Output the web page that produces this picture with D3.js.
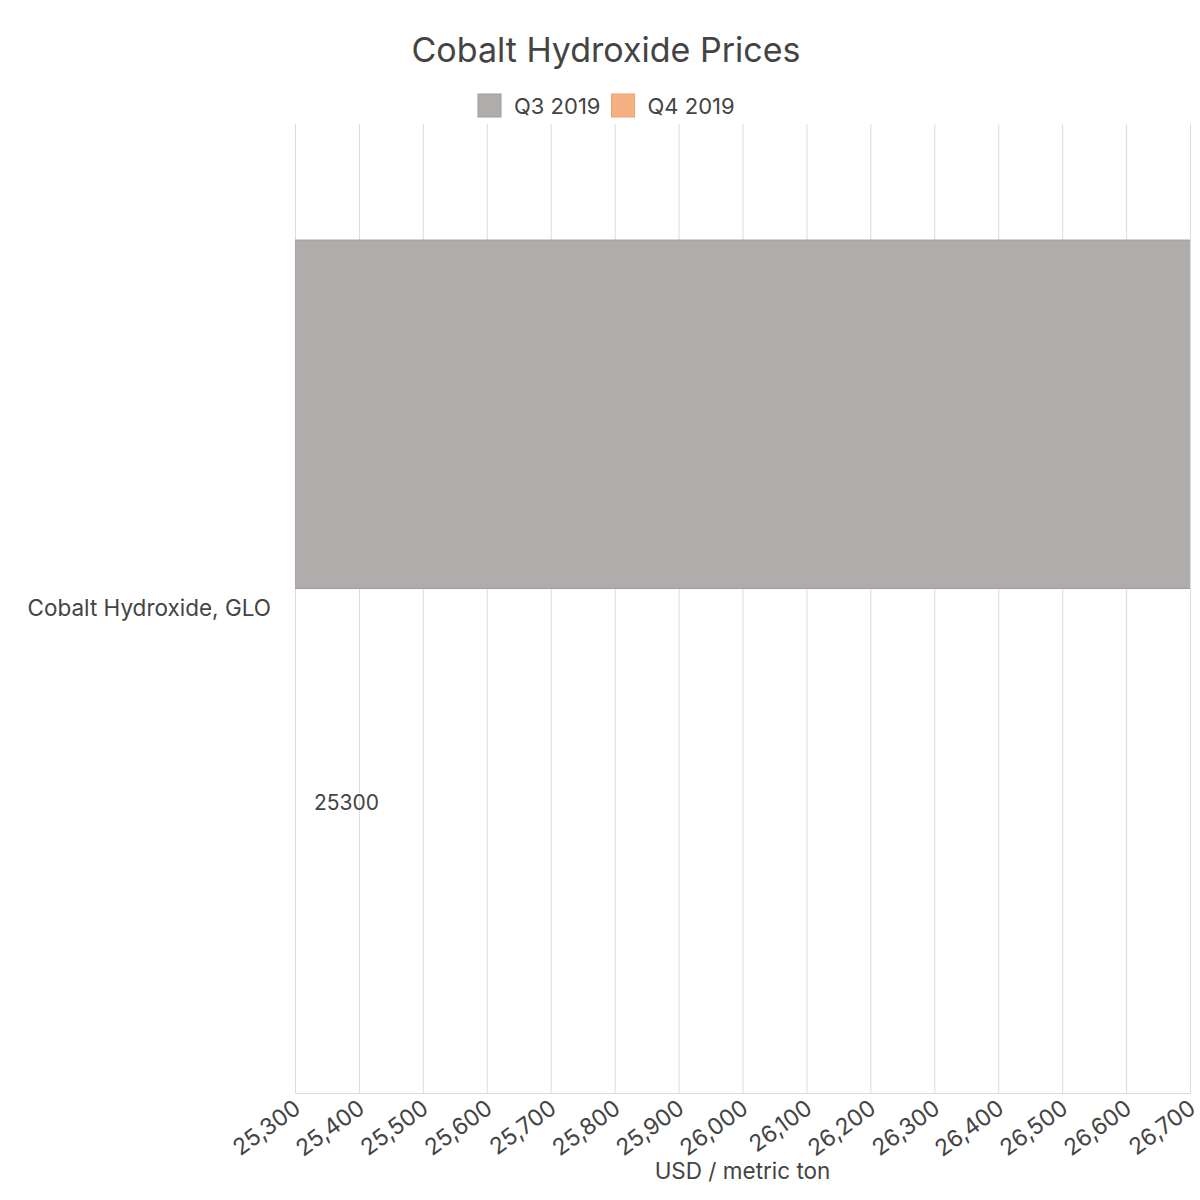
<!DOCTYPE html>
<html>
<head>
<meta charset="utf-8">
<script src="https://cdn.jsdelivr.net/npm/d3@7"></script>
<style>
  body { margin: 0; background: #fff; }
  text { font-family: Inter, "Noto Sans", sans-serif; fill: #444; }
</style>
</head>
<body>
<div id="chart"></div>
<script>
const categories = ["Cobalt Hydroxide, GLO"];
const seriesNames = ["Q3 2019", "Q4 2019"];
const q3Values = [28500];
const q4Values = [25300];
const seriesColors = ["#b0acab", "#f5b183"];
const seriesStroke = ["#a19d9c", "#efa06c"];
const xDomain = [25300, 26700];

const width = 1200;
const height = 1200;
const margin = { top: 124, right: 10, bottom: 107, left: 295 };
const innerW = width - margin.left - margin.right;
const innerH = height - margin.top - margin.bottom;

const data = categories.map((c, i) => ({
    category: c,
    values: [q3Values[i], q4Values[i]]
}));

const svg = d3.select("#chart")
    .append("svg")
    .attr("width", width)
    .attr("height", height);

svg.append("defs").append("clipPath")
    .attr("id", "plot-clip")
    .append("rect")
    .attr("width", innerW)
    .attr("height", innerH);

const g = svg.append("g")
    .attr("transform", `translate(${margin.left},${margin.top})`);

const x = d3.scaleLinear().domain(xDomain).range([0, innerW]);

const y0 = d3.scaleBand()
    .domain(categories)
    .range([0, innerH])
    .paddingInner(0.2)
    .paddingOuter(0.126);

const y1 = d3.scaleBand()
    .domain(d3.range(seriesNames.length))
    .range([0, y0.bandwidth()])
    .paddingInner(0.103);

// grid lines
g.append("g")
    .selectAll("line")
    .data(x.ticks(14))
    .enter().append("line")
    .attr("x1", d => x(d) + 0.5)
    .attr("x2", d => x(d) + 0.5)
    .attr("y1", 0)
    .attr("y2", innerH)
    .attr("stroke", "#dcdcdc")
    .attr("stroke-width", 1);

// bottom axis
const xAxis = g.append("g")
    .attr("transform", `translate(0,${innerH})`)
    .call(d3.axisBottom(x).ticks(14).tickFormat(d3.format(",")).tickSize(0));
xAxis.select(".domain").attr("stroke", "#dcdcdc");
xAxis.selectAll("text")
    .attr("x", 0)
    .attr("y", 0)
    .attr("dy", "0.35em")
    .attr("font-size", 23)
    .attr("fill", "#444")
    .attr("transform", "translate(2,12) rotate(-36)")
    .style("text-anchor", "end");

// bars
const groups = g.append("g")
    .attr("clip-path", "url(#plot-clip)")
    .selectAll("g")
    .data(data)
    .enter().append("g")
    .attr("transform", d => `translate(0,${y0(d.category)})`);

groups.selectAll("rect")
    .data(d => d.values.map((v, i) => ({ i, v })))
    .enter().append("rect")
    .attr("x", 0)
    .attr("y", d => y1(d.i))
    .attr("width", d => Math.max(0, x(d.v) - x(xDomain[0])))
    .attr("height", y1.bandwidth())
    .attr("fill", d => seriesColors[d.i])
    .attr("stroke", d => seriesStroke[d.i])
    .attr("stroke-width", 1);

// value labels for bars ending inside the plot
groups.selectAll("text.value")
    .data(d => d.values.map((v, i) => ({ i, v })).filter(d => x(d.v) < innerW))
    .enter().append("text")
    .attr("class", "value")
    .attr("x", d => x(d.v) + 19)
    .attr("y", d => y1(d.i) + y1.bandwidth() / 2)
    .attr("dy", "0.35em")
    .attr("font-size", 21)
    .text(d => d.v);

// category labels
g.append("g")
    .selectAll("text")
    .data(categories)
    .enter().append("text")
    .attr("x", -24)
    .attr("y", d => y0(d) + y0.bandwidth() / 2)
    .attr("dy", "0.35em")
    .attr("text-anchor", "end")
    .attr("font-size", 22.5)
    .text(d => d);

// axis title
svg.append("text")
    .attr("x", margin.left + innerW / 2)
    .attr("y", 1179)
    .attr("text-anchor", "middle")
    .attr("font-size", 22.5)
    .text("USD / metric ton");

// title
svg.append("text")
    .attr("x", 606)
    .attr("y", 62)
    .attr("text-anchor", "middle")
    .attr("font-size", 34)
    .text("Cobalt Hydroxide Prices");

// legend
const legend = svg.append("g").attr("transform", "translate(478,94)");
let lx = 0;
seriesNames.forEach((name, i) => {
    const item = legend.append("g").attr("transform", `translate(${lx},0)`);
    item.append("rect")
        .attr("width", 23)
        .attr("height", 23)
        .attr("fill", seriesColors[i])
        .attr("stroke", seriesStroke[i]);
    const t = item.append("text")
        .attr("x", 36)
        .attr("y", 12)
        .attr("dy", "0.35em")
        .attr("font-size", 22)
        .text(name);
    lx += 36 + t.node().getComputedTextLength() + 11;
});
</script>
</body>
</html>
